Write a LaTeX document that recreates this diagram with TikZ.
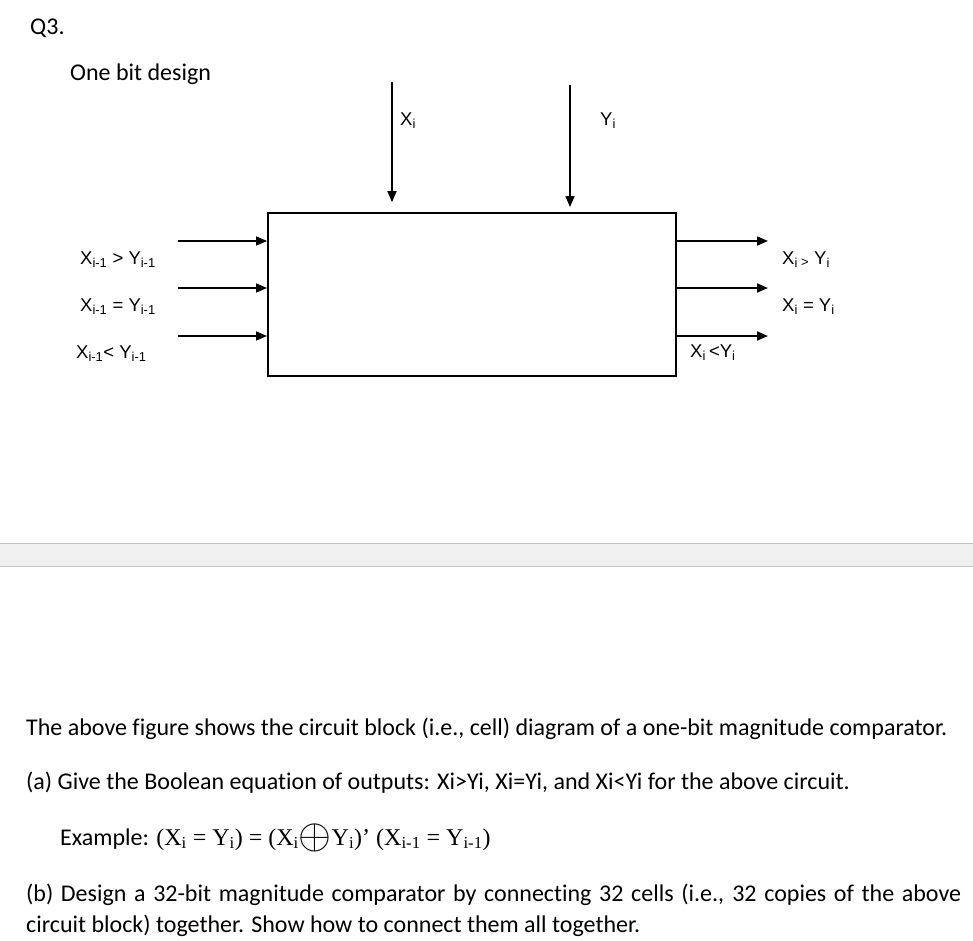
\documentclass[tikz,border=0pt]{standalone}
\usepackage{fontspec}
\setmainfont{Carlito}[Ligatures=CommonOff]
\newfontfamily\sigfont{Liberation Sans}
\newfontfamily\eqfont{Liberation Serif}
\usetikzlibrary{arrows.meta}
\usetikzlibrary{positioning}
\definecolor{bandgray}{HTML}{F0F0F0}
\definecolor{bandline}{HTML}{C3C3C3}
\tikzset{x=1pt, y=-1pt,
	sig/.style={
		line width=1.6pt,
		-{Triangle[length=11pt, width=9pt]}},
	cell/.style={
		draw,
		line width=1.8pt,
		inner sep=0pt,
		minimum width=408pt,
		minimum height=163pt},
	siglabel/.style={
		font=\sigfont\fontsize{18.5}{20}\selectfont,
		inner sep=0pt},
	bodytext/.style={
		font=\fontsize{24}{31}\selectfont,
		anchor=base west,
		inner sep=0pt}
}
\begin{document}
\begin{tikzpicture}
	\useasboundingbox (0,0) rectangle (973,940);
	\node[bodytext] (q) at (30,34) {Q3.};
	\node[bodytext] (title) at (70,80) {One bit design};
	% the one-bit cell
	\node[cell] (box) at (472,294.5) {};
	% inputs from above
	\coordinate (xtop) at (392,82);
	\coordinate (ytop) at (570,85);
	\draw[sig, shorten >=10pt] (xtop) -- (xtop |- box.north);
	\draw[sig, shorten >=5pt] (ytop) -- (ytop |- box.north);
	\node[siglabel, anchor=base west] (xlab) at (400,125) {X\textsubscript{i}};
	\node[siglabel, anchor=base west] (ylab) at (600,125) {Y\textsubscript{i}};
	% inputs from the previous cell
	\coordinate (gin) at (178,241);
	\coordinate (ein) at (178,288);
	\coordinate (lin) at (178,336);
	\draw[sig] (gin) -- (gin -| box.west);
	\draw[sig] (ein) -- (ein -| box.west);
	\draw[sig] (lin) -- (lin -| box.west);
	\node[siglabel, anchor=base west] (glab) at (80,264) {X\textsubscript{i-1} > Y\textsubscript{i-1}};
	\node[siglabel, anchor=base west] (elab) at (80,311) {X\textsubscript{i-1} = Y\textsubscript{i-1}};
	\node[siglabel, anchor=base west] (llab) at (76,358) {X\textsubscript{i-1}< Y\textsubscript{i-1}};
	% outputs
	\coordinate (gout) at (768,241);
	\coordinate (eout) at (768,288);
	\coordinate (lout) at (768,336);
	\draw[sig] (gout -| box.east) -- (gout);
	\draw[sig] (eout -| box.east) -- (eout);
	\draw[sig] (lout -| box.east) -- (lout);
	\node[siglabel, anchor=base west] (golab) at (782,264) {X\textsubscript{i}\,\textsubscript{>} Y\textsubscript{i}};
	\node[siglabel, anchor=base west] (eolab) at (782,311) {X\textsubscript{i} = Y\textsubscript{i}};
	\node[siglabel, anchor=base west] (lolab) at (690,357) {X\textsubscript{i}\,<Y\textsubscript{i}};
	% grey page break
	\fill[bandgray] (0,543) rectangle (973,566);
	\draw[bandline, line width=1pt] (0,543) -- (973,543);
	\draw[bandline, line width=1pt] (0,566) -- (973,566);
	% question text
	\node[bodytext] (intro) at (26,735) {The above figure shows the circuit block (i.e., cell) diagram of a one-bit magnitude comparator.};
	\node[bodytext] (parta) at (26,789) {(a) Give the Boolean equation of outputs: Xi>Yi, Xi=Yi, and Xi<Yi for the above circuit.};
	\node[bodytext] (example) at (60,845) {Example: {\eqfont (X\textsubscript{i} = Y\textsubscript{i}) = (X\textsubscript{i}\raisebox{-3pt}{\scalebox{1.7}{$\oplus$}}Y\textsubscript{i})’ (X\textsubscript{i-1} = Y\textsubscript{i-1})}};
	\node[bodytext, anchor=base west, text width=935pt, align=justify] (partb) at (26,901) {(b) Design a 32-bit magnitude comparator by connecting 32 cells (i.e., 32 copies of the above\linebreak circuit block) together. Show how to connect them all together.};
\end{tikzpicture}
\end{document}
